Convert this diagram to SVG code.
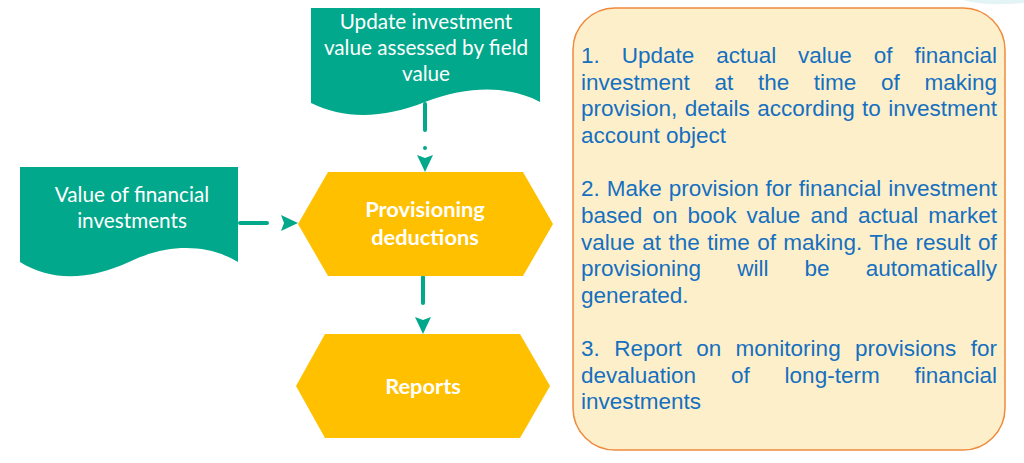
<svg xmlns="http://www.w3.org/2000/svg" width="1024" height="463" viewBox="0 0 1024 463">
  <style>
    .doc { fill: #02A88B; }
    .hex { fill: #FFC000; }
    .doctext { font-family: Lato, "Open Sans", sans-serif; font-size: 20.7px; fill: #FFFFFF; text-anchor: middle; }
    .hextext { font-family: Lato, "Open Sans", sans-serif; font-size: 21.8px; font-weight: bold; fill: #FFFFFF; text-anchor: middle; }
    .conn { stroke: #02A88B; stroke-width: 4; stroke-linecap: round; fill: none; }
    .arrow { fill: #02A88B; }
    .note { fill: #FEEFCB; stroke: #F08A3C; stroke-width: 1.5; }
    .notetext { font-family: "Liberation Sans", Arial, sans-serif; font-size: 22.5px; fill: #1570C0; }
  </style>
  <defs>
    <path id="arrowDown" d="M-8,-17 L0,-14 L8,-17 L0,0 Z"/>
  </defs>

  <rect width="1024" height="463" fill="#FFFFFF"/>
  <path d="M963,0 H1024 V3 C1000,5 980,5 963,0 Z" fill="#E4F3F5"/>

  <g id="connectors">
    <line class="conn" x1="425" y1="104" x2="425" y2="130"/>
    <circle cx="425" cy="148" r="2" class="arrow"/>
    <use href="#arrowDown" class="arrow" transform="translate(425,172)"/>
    <line class="conn" x1="240" y1="223" x2="267" y2="223"/>
    <use href="#arrowDown" class="arrow" transform="translate(298,223) rotate(-90)"/>
    <line class="conn" x1="423" y1="277" x2="423" y2="303"/>
    <use href="#arrowDown" class="arrow" transform="translate(423,334)"/>
  </g>

  <g id="node-update">
    <path class="doc" d="M311,8 H540 V102 C510,86 470,85 425,102 C385,118 345,120 311,103 Z"/>
    <text class="doctext" x="426" y="29">Update investment</text>
    <text class="doctext" x="426" y="55">value assessed by field</text>
    <text class="doctext" x="426" y="81">value</text>
  </g>

  <g id="node-value">
    <path class="doc" d="M20,167 H238 V262 C208,244 168,243 129,262 C90,280 52,282 20,262 Z"/>
    <text class="doctext" x="132" y="202">Value of financial</text>
    <text class="doctext" x="132" y="228">investments</text>
  </g>

  <g id="node-provisioning">
    <polygon class="hex" points="298,224 328,172 523,172 553,224 523,276 328,276"/>
    <text class="hextext" x="425" y="217">Provisioning</text>
    <text class="hextext" x="425" y="245">deductions</text>
  </g>

  <g id="node-reports">
    <polygon class="hex" points="296,386 325,334 520,334 550,386 520,438 325,438"/>
    <text class="hextext" x="423" y="394">Reports</text>
  </g>

  <g id="node-notes">
    <rect class="note" x="573" y="8" width="432" height="442" rx="42" ry="42"/>
    <text class="notetext" x="581" y="63" word-spacing="15.66">1. Update actual value of financial</text>
    <text class="notetext" x="581" y="90" word-spacing="18.42">investment at the time of making</text>
    <text class="notetext" x="581" y="116" word-spacing="1.15">provision, details according to investment</text>
    <text class="notetext" x="581" y="143">account object</text>

    <text class="notetext" x="581" y="196" word-spacing="0.67">2. Make provision for financial investment</text>
    <text class="notetext" x="581" y="223" word-spacing="3.88">based on book value and actual market</text>
    <text class="notetext" x="581" y="250" word-spacing="1.2">value at the time of making. The result of</text>
    <text class="notetext" x="581" y="276" word-spacing="29.89">provisioning will be automatically</text>
    <text class="notetext" x="581" y="303">generated.</text>

    <text class="notetext" x="581" y="356" word-spacing="8.17">3. Report on monitoring provisions for</text>
    <text class="notetext" x="581" y="383" word-spacing="28.62">devaluation of long-term financial</text>
    <text class="notetext" x="581" y="409">investments</text>
  </g>
</svg>
